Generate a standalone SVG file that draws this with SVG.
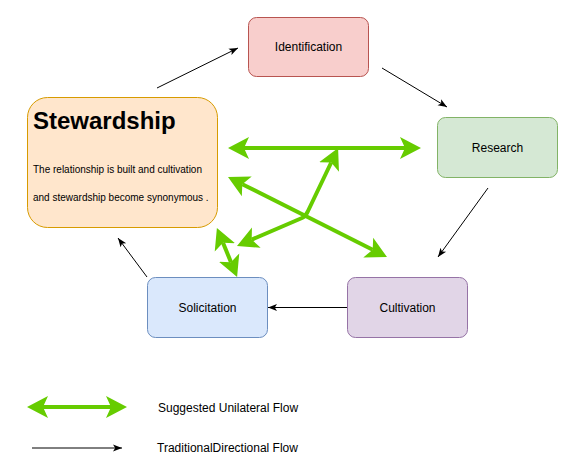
<svg xmlns="http://www.w3.org/2000/svg" width="575" height="475" viewBox="0 0 575 475">
  <style>
    text { font-family: "Liberation Sans", Arial, Helvetica, sans-serif; fill: #000; }
    .lbl { font-size: 12px; text-anchor: middle; dominant-baseline: central; }
    .node { stroke-width: 1; }
    .g { fill: none; stroke: #66CC00; stroke-width: 4; stroke-linejoin: round; marker-start: url(#ga); marker-end: url(#ga); }
    .k { fill: none; stroke: #000; stroke-width: 1; marker-end: url(#ka); }
  </style>
  <defs>
    <marker id="ga" viewBox="0 -12 22 24" markerWidth="22" markerHeight="24" refX="5" refY="0" orient="auto-start-reverse" markerUnits="userSpaceOnUse">
      <path d="M0,-11 L21,0 L0,11 L5,0 Z" fill="#66CC00"/>
    </marker>
    <marker id="ka" viewBox="0 -5 10 10" markerWidth="10" markerHeight="10" refX="9" refY="0" orient="auto" markerUnits="userSpaceOnUse">
      <path d="M0,-3.5 L9,0 L0,3.5 L2.2,0 Z" fill="#000"/>
    </marker>
  </defs>
  <rect width="575" height="475" fill="#fff"/>

  <g id="stewardship">
    <rect class="node" x="27.5" y="97.5" width="190" height="130" rx="20" ry="20" fill="#ffe6cc" stroke="#d79b00"/>
    <text x="33" y="129" font-size="24" font-weight="bold">Stewardship</text>
    <text x="33" y="173" font-size="10">The relationship is built and cultivation</text>
    <text x="33" y="201" font-size="10">and stewardship become synonymous .</text>
  </g>
  <g id="identification">
    <rect class="node" x="248.5" y="17.5" width="120" height="59" rx="8" ry="8" fill="#f8cecc" stroke="#b85450"/>
    <text class="lbl" x="308.5" y="47">Identification</text>
  </g>
  <g id="research">
    <rect class="node" x="437.5" y="117.5" width="120" height="60" rx="8" ry="8" fill="#d5e8d4" stroke="#82b366"/>
    <text class="lbl" x="497.5" y="147.5">Research</text>
  </g>
  <g id="cultivation">
    <rect class="node" x="347.5" y="277.5" width="120" height="60" rx="8" ry="8" fill="#e1d5e7" stroke="#9673a6"/>
    <text class="lbl" x="407.5" y="307.5">Cultivation</text>
  </g>
  <g id="solicitation">
    <rect class="node" x="147.5" y="277.5" width="120" height="60" rx="8" ry="8" fill="#dae8fc" stroke="#6c8ebf"/>
    <text class="lbl" x="207.5" y="307.5">Solicitation</text>
  </g>

  <g id="connectors">
    <path class="k" d="M157,88 L238,48"/>
    <path class="k" d="M382,68 L447,107"/>
    <path class="k" d="M488,188 L438,257"/>
    <path class="k" d="M347,307.5 L268,307.5"/>
    <path class="k" d="M147,277 L118,238"/>

    <path class="g" d="M244,148 L405,148"/>
    <path class="g" d="M242.3,184.2 L372.7,249.8"/>
    <path class="g" d="M251.7,239.6 L302,218 Q306,216 308,211 L331.2,162.5"/>
    <path class="g" d="M223,242.8 L231,262.2"/>
  </g>

  <g id="legend">
    <path class="g" d="M43,407 L111,407"/>
    <text x="158" y="412" font-size="12">Suggested Unilateral Flow</text>
    <path class="k" d="M32,448 L122,448"/>
    <text x="157" y="452" font-size="12">TraditionalDirectional Flow</text>
  </g>
</svg>
